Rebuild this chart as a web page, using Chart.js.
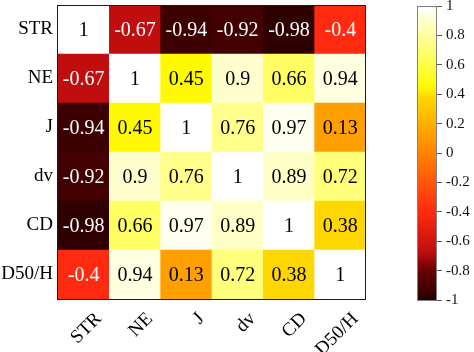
<!DOCTYPE html>
<html><head><meta charset="utf-8">
<script src="https://cdn.jsdelivr.net/npm/chart.js@4/dist/chart.umd.min.js"></script>
<style>
html,body{margin:0;padding:0;background:#fff;}
#wrap{position:relative;width:474px;height:352px;overflow:hidden;}
#main{position:absolute;left:0;top:0;}
#cb{position:absolute;left:400px;top:0;}
#probe{position:absolute;left:-1000px;top:0;font-family:"Liberation Serif";font-size:20px;}
</style></head><body>
<div id="probe">STR 0.94 -0.67</div>
<div id="wrap"><canvas id="main" width="474" height="352"></canvas><canvas id="cb" width="74" height="352"></canvas></div>
<script>
// ---- data ----
const categories = ['STR', 'NE', 'J', 'dv', 'CD', 'D50/H'];
const rowSTR  = [1, -0.67, -0.94, -0.92, -0.98, -0.4];
const rowNE   = [-0.67, 1, 0.45, 0.9, 0.66, 0.94];
const rowJ    = [-0.94, 0.45, 1, 0.76, 0.97, 0.13];
const rowDv   = [-0.92, 0.9, 0.76, 1, 0.89, 0.72];
const rowCD   = [-0.98, 0.66, 0.97, 0.89, 1, 0.38];
const rowD50H = [-0.4, 0.94, 0.13, 0.72, 0.38, 1];
const colorbarRange = [-1, 1];
const colorbarTicks = [-1, -0.8, -0.6, -0.4, -0.2, 0, 0.2, 0.4, 0.6, 0.8, 1];

// ---- style ----
const rows = [rowSTR, rowNE, rowJ, rowDv, rowCD, rowD50H];
const FONT = "'Liberation Serif'";
const CMAP = [
  [-1, [40, 0, 0]], [-0.94, [60, 0, 0]], [-0.8, [105, 0, 0]], [-0.67, [192, 14, 14]],
  [-0.4, [255, 42, 16]], [0.13, [255, 160, 0]], [0.38, [255, 215, 0]], [0.45, [255, 250, 0]],
  [0.66, [255, 255, 100]], [0.76, [255, 255, 140]], [0.9, [255, 255, 205]], [1, [255, 255, 255]]
];
function cmap(v) {
  for (let i = 1; i < CMAP.length; i++) {
    const [v1, c1] = CMAP[i];
    const [v0, c0] = CMAP[i - 1];
    if (v <= v1) {
      const t = (v - v0) / (v1 - v0);
      const c = c0.map((x, k) => Math.round(x + (c1[k] - x) * t));
      return `rgb(${c[0]},${c[1]},${c[2]})`;
    }
  }
  return 'rgb(255,255,255)';
}

function build() {
const n = categories.length;
const datasets = [];
for (let r = n - 1; r >= 0; r--) {
  datasets.push({
    label: categories[r],
    data: rows[r].map(() => 1),
    backgroundColor: rows[r].map(v => cmap(v)),
    borderWidth: 0,
    barPercentage: 1,
    categoryPercentage: 1
  });
}

const cellText = {
  id: 'cellText',
  afterDatasetsDraw(chart) {
    const ctx = chart.ctx, xs = chart.scales.x, ys = chart.scales.y;
    ctx.save();
    ctx.font = '20px ' + FONT;
    ctx.textAlign = 'center';
    ctx.textBaseline = 'middle';
    rows.forEach((row, r) => {
      row.forEach((v, c) => {
        ctx.fillStyle = v < 0 ? '#ffffff' : '#000000';
        ctx.fillText(String(v), xs.getPixelForValue(c), ys.getPixelForValue(n - r - 0.5) + 1);
      });
    });
    const a = chart.chartArea;
    ctx.strokeStyle = '#1a1a1a';
    ctx.lineWidth = 1;
    ctx.strokeRect(Math.round(a.left) - 0.5, Math.round(a.top) + 0.5, Math.round(a.right - a.left), Math.round(a.bottom - a.top));
    ctx.restore();
  }
};

new Chart(document.getElementById('main'), {
  type: 'bar',
  data: { labels: categories, datasets },
  options: {
    responsive: false,
    animation: false,
    layout: { padding: { top: 5, right: 108, left: 0, bottom: 0 } },
    plugins: { legend: { display: false }, tooltip: { enabled: false } },
    scales: {
      x: {
        stacked: true,
        grid: { display: false, drawTicks: false },
        border: { display: false },
        ticks: {
          font: { family: FONT, size: 19 }, color: '#000',
          maxRotation: 45, minRotation: 45, padding: 9, labelOffset: 15
        },
        afterFit(s) { s.height = 53; s.paddingLeft = 0; s.paddingRight = 0; }
      },
      y: {
        stacked: true, min: 0, max: n,
        grid: { display: false, drawTicks: false },
        border: { display: false },
        afterBuildTicks(s) { s.ticks = categories.map((_, i) => ({ value: i + 0.5 })); },
        ticks: {
          font: { family: FONT, size: 19 }, color: '#000', padding: 5,
          callback: v => categories[n - 1 - Math.floor(v)]
        },
        afterFit(s) { s.width = 58; s.paddingTop = 0; s.paddingBottom = 0; }
      }
    }
  },
  plugins: [cellText]
});

const cbBorder = {
  id: 'cbBorder',
  afterDraw(chart) {
    const a = chart.chartArea, ctx = chart.ctx;
    ctx.save();
    ctx.strokeStyle = '#808080';
    ctx.lineWidth = 1;
    ctx.strokeRect(Math.round(a.left) + 0.5, Math.round(a.top) + 0.5, Math.round(a.right - a.left) - 1, Math.round(a.bottom - a.top));
    ctx.restore();
  }
};
new Chart(document.getElementById('cb'), {
  type: 'bar',
  data: {
    labels: [''],
    datasets: [{
      data: [colorbarRange],
      borderWidth: 0,
      barPercentage: 1,
      categoryPercentage: 1,
      backgroundColor(ctx) {
        const chart = ctx.chart, ys = chart.scales.y;
        if (!ys || !chart.chartArea) return '#fff';
        const g = chart.ctx.createLinearGradient(0, ys.getPixelForValue(colorbarRange[0]), 0, ys.getPixelForValue(colorbarRange[1]));
        for (let i = 0; i <= 100; i++) {
          const v = colorbarRange[0] + (colorbarRange[1] - colorbarRange[0]) * i / 100;
          g.addColorStop(i / 100, cmap(v));
        }
        return g;
      }
    }]
  },
  options: {
    responsive: false,
    animation: false,
    layout: { padding: { top: 6, left: 17, right: 0, bottom: 52 } },
    plugins: { legend: { display: false }, tooltip: { enabled: false } },
    scales: {
      x: { display: false },
      y: {
        position: 'right', min: colorbarRange[0], max: colorbarRange[1],
        afterBuildTicks(s) { s.ticks = colorbarTicks.map(v => ({ value: v })); },
        grid: { drawOnChartArea: false, drawTicks: true, tickLength: 5, color: '#555' },
        border: { display: false },
        ticks: {
          font: { family: FONT, size: 15 }, color: '#111', padding: 4,
          callback: v => String(v)
        },
        afterFit(s) { s.width = 37; s.paddingTop = 0; s.paddingBottom = 0; }
      }
    }
  },
  plugins: [cbBorder]
});
}

const loads = [document.fonts.load("20px 'Liberation Serif'"), document.fonts.load("15px 'Liberation Serif'")];
Promise.all(loads).then(build, build);
</script>
</body></html>
